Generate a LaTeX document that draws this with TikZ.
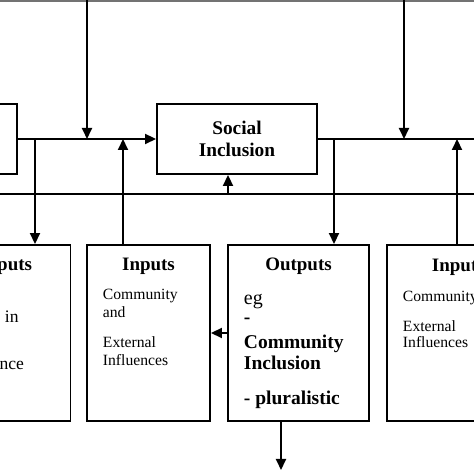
\documentclass[tikz,border=0pt]{standalone}
\usepackage{fontspec}
\setmainfont{Liberation Serif}
\usepackage{tikz}
\usetikzlibrary{arrows,arrows.meta,positioning,calc}

\begin{document}
\begin{tikzpicture}[-, line width=1.1pt,
  box/.style={draw, rectangle, inner sep=0pt, line width=1.1pt},
  arr/.style={-{Triangle[length=0.22cm,width=0.2cm]}},
  head/.style={font=\fontsize{10.8}{12.5}\selectfont\bfseries, inner sep=0pt},
  txt/.style={font=\fontsize{8.9}{10.2}\selectfont, inner sep=0pt, anchor=base west},
  big/.style={font=\fontsize{11.1}{13}\selectfont\bfseries, inner sep=0pt, anchor=base west}]
\useasboundingbox (0,0) rectangle (9.48,9.48);
\clip (0,0) rectangle (9.48,9.48);
% upper boxes
\node[box, minimum width=3.2cm, minimum height=1.4cm] (lb) at (-1.26,6.70) {};
\node[box, minimum width=3.2cm, minimum height=1.4cm, align=center,
  font=\fontsize{11}{12.5}\selectfont\bfseries] (si) at (4.74,6.70) {Social\\Inclusion};
% lower boxes
\node[box, minimum width=2.82cm, minimum height=3.52cm] (o1) at (0.0,2.82) {};
\node[box, minimum width=2.46cm, minimum height=3.52cm] (i2) at (2.97,2.82) {};
\node[box, minimum width=2.82cm, minimum height=3.52cm] (o3) at (5.97,2.82) {};
\node[box, minimum width=2.84cm, minimum height=3.52cm] (i4) at (9.16,2.82) {};
% texts
\node[head, anchor=base east] (o1h) at (0.66,4.06) {puts};
\node[txt, font=\fontsize{10}{12}\selectfont] (o1a) at (0.08,3.02) {in};
\node[txt, anchor=base east, font=\fontsize{10}{12}\selectfont] (o1b) at (0.50,2.08) {ence};
\node[head, anchor=base] (i2h) at (2.97,4.06) {Inputs};
\node[txt] (i2a) at (2.04,3.48) {Community};
\node[txt] (i2b) at (2.04,3.12) {and};
\node[txt] (i2c) at (2.04,2.52) {External};
\node[txt] (i2d) at (2.04,2.17) {Influences};
\node[head, anchor=base] (o3h) at (5.97,4.06) {Outputs};
\node[txt, font=\fontsize{11.4}{13}\selectfont] (o3a) at (4.86,3.38) {eg};
\node[big] (o3b) at (4.86,3.00) {-};
\node[big] (o3c) at (4.86,2.50) {Community};
\node[big] (o3d) at (4.86,2.08) {Inclusion};
\node[big] (o3e) at (4.86,1.38) {- pluralistic};
\node[head, anchor=base west] (i4h) at (8.62,4.04) {Input};
\node[txt] (i4a) at (8.04,3.44) {Community};
\node[txt] (i4b) at (8.04,2.84) {External};
\node[txt] (i4c) at (8.04,2.52) {Influences};
% free ends
\coordinate (tl) at (-0.1,9.47);
\coordinate (tr) at (9.6,9.47);
\coordinate (t1) at (1.74,9.47);
\coordinate (t2) at (8.08,9.47);
\coordinate (mr) at (9.6,6.70);
\coordinate (l2) at (-0.1,5.60);
\coordinate (r2) at (9.6,5.60);
\coordinate (u1) at (4.56,5.60);
\coordinate (d1) at (0.70,6.70);
\coordinate (u2) at (2.46,6.70);
\coordinate (d3) at (6.68,6.70);
\coordinate (u4) at (9.14,6.70);
\coordinate (b1) at (5.62,0.08);
% lines
\draw[black!55, line width=1.3pt] (tl) -- (tr);
\draw[arr] (lb.east) -- (si.west);
\draw (si.east) -- (mr);
\draw (l2) -- (r2);
\path
(t1) edge[arr] (t1 |- si.west)
(t2) edge[arr] (t2 |- si.west)
(u1) edge[arr] (u1 |- si.south)
(d1) edge[arr] (d1 |- o1.north)
(u2 |- i2.north) edge[arr] (u2)
(d3) edge[arr] (d3 |- o3.north)
(u4 |- i4.north) edge[arr] (u4)
(o3.west) edge[arr] (i2.east)
(b1 |- o3.south) edge[arr] (b1);
\end{tikzpicture}
\end{document}
